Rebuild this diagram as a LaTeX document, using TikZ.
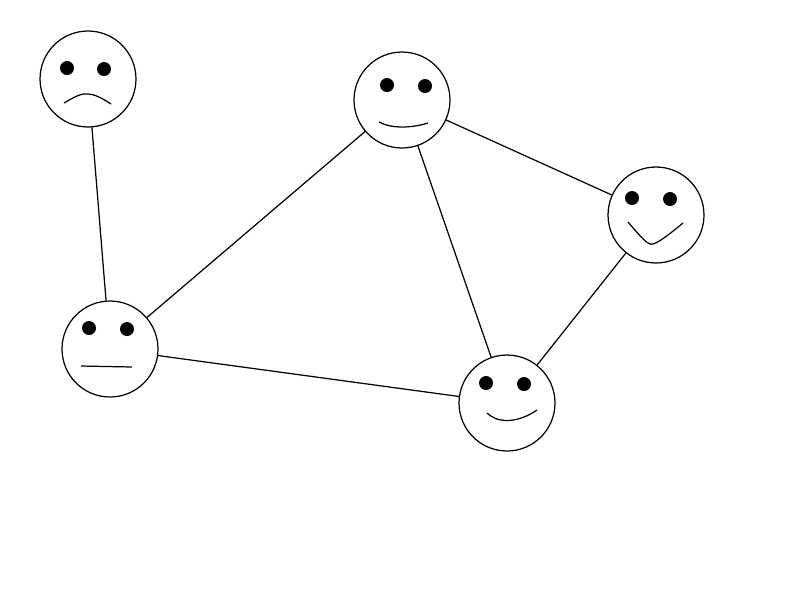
\documentclass[tikz,border=0pt]{standalone}
\begin{document}
\begin{tikzpicture}[x=0.02cm,y=-0.02cm,
  face/.style={circle,draw,line width=0.7pt,minimum size=1.92cm,inner sep=0pt},
  eye/.style={fill=black},
  link/.style={line width=0.7pt},
  mouth/.style={line width=0.7pt}]
\useasboundingbox (0,0) rectangle (800,600);
\node[face] (A) at (88,79) {};
\node[face] (B) at (402,100) {};
\node[face] (C) at (656,215) {};
\node[face] (D) at (110,349) {};
\node[face] (E) at (507,403) {};
\draw[link] (A) -- (D);
\draw[link] (D) -- (B);
\draw[link] (B) -- (C);
\draw[link] (B) -- (E);
\draw[link] (C) -- (E);
\draw[link] (D) -- (E);
% eyes
\foreach \p in {(67,68),(104,69),(387,85),(425,86),(632,198),(670,199),(89,328),(127,329),(486,383),(524,384)}
  \fill \p circle (7);
% mouths
\draw[mouth] (64,103) .. controls (76,96) and (82,93) .. (88,94) .. controls (94,94) and (102,98) .. (111,104);
\draw[mouth] (379,122) .. controls (392,129) and (412,128) .. (428,123);
\draw[mouth] (628,222) .. controls (640,236) and (648,246) .. (653,244) .. controls (660,242) and (672,232) .. (683,223);
\draw[mouth] (81,366) -- (132,367);
\draw[mouth] (487,413) .. controls (496,422) and (515,425) .. (537,410);
\end{tikzpicture}
\end{document}
